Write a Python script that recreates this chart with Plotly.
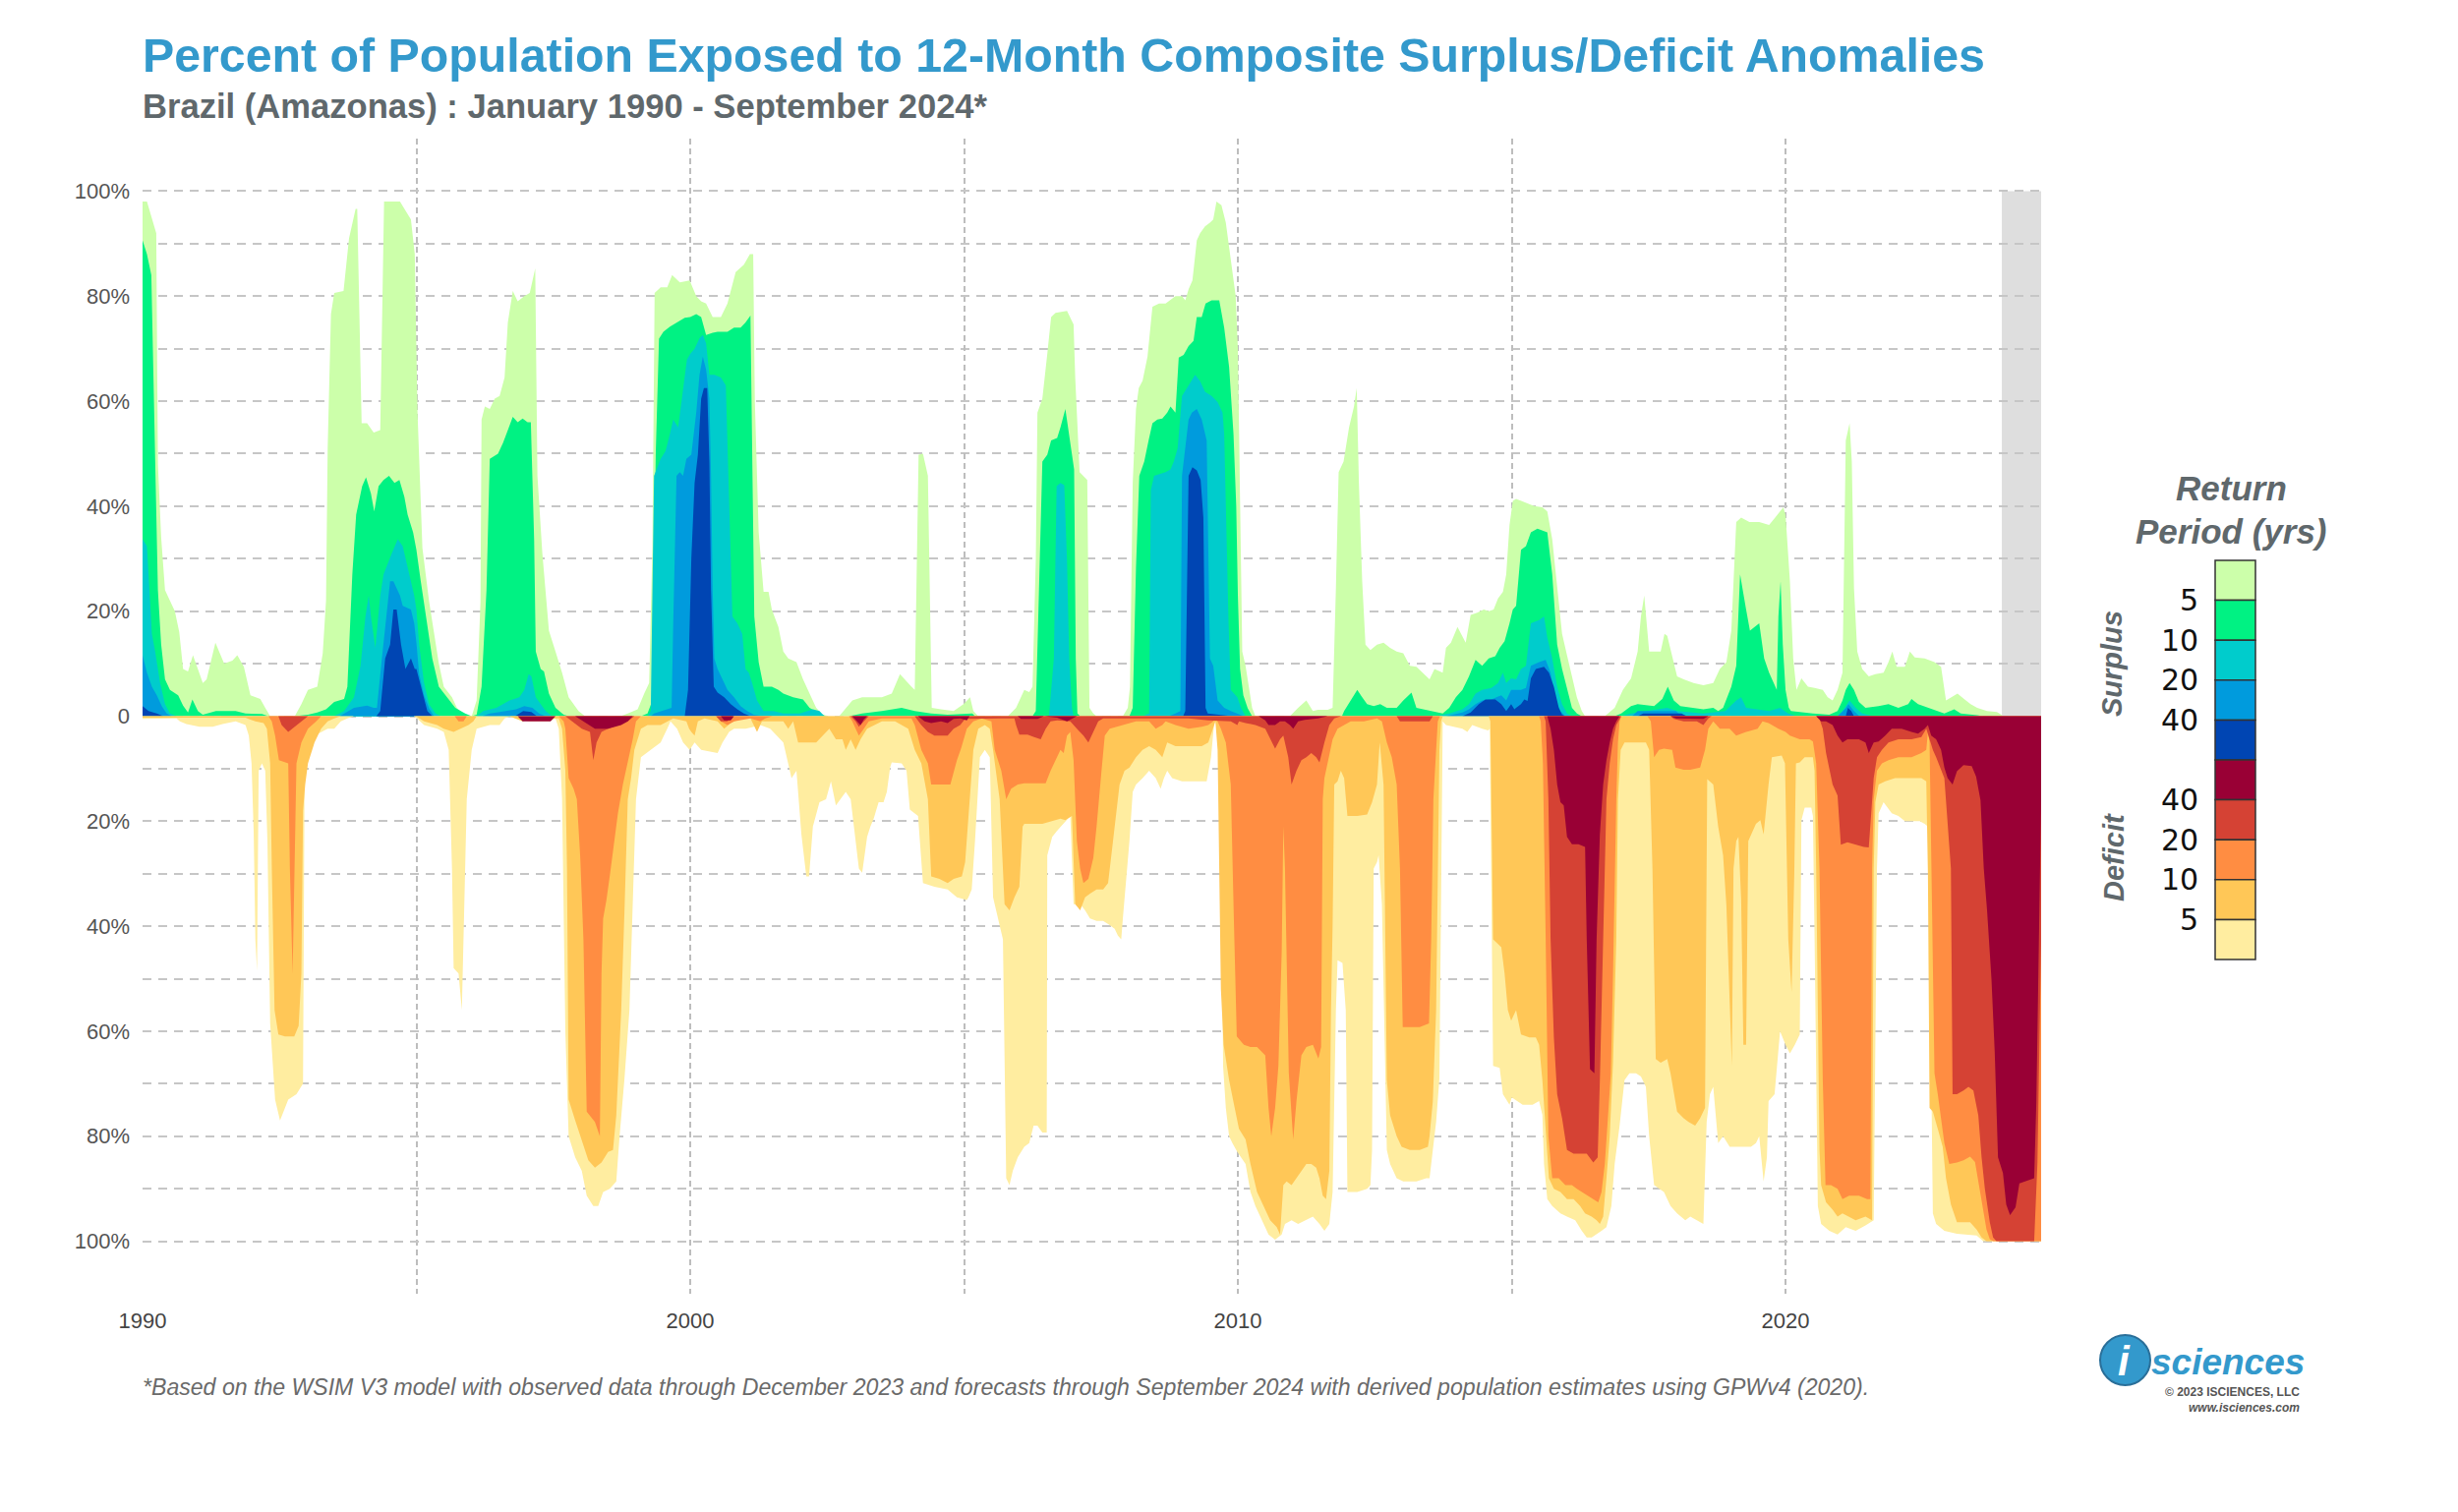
import plotly.graph_objects as go

# ---------------- DATA (decimal year, % of population) ----------------
# Surplus: share of population with return period >= threshold
surplus_3yr = [(1990.00,98),(1990.08,98),(1990.25,92),(1990.28,48),(1990.34,34),(1990.41,24),(1990.50,22),(1990.59,20),(1990.67,16),(1990.74,9),(1990.83,8.5),(1990.92,11.6),(1991.01,9),(1991.10,6.3),(1991.17,7),(1991.33,14),(1991.49,10),(1991.64,10.6),(1991.73,11.6),(1991.85,9.4),(1991.97,4),(1992.15,3.3),(1992.24,1.6),(1992.33,0),(1992.78,0),(1992.90,2.3),(1993.02,5),(1993.19,5.6),(1993.29,12),(1993.35,22),(1993.38,51),(1993.44,76.6),(1993.50,80.6),(1993.67,81),(1993.77,91),(1993.89,96.6),(1993.92,96.6),(1994.00,55.8),(1994.10,55.8),(1994.22,54),(1994.34,54.5),(1994.41,98),(1994.70,98),(1994.90,94.6),(1994.97,88),(1995.02,58),(1995.11,32),(1995.23,22),(1995.32,16),(1995.41,10),(1995.50,5.6),(1995.65,3.6),(1995.74,1.6),(1995.89,0),(1996.01,0),(1996.10,3),(1996.17,21.7),(1996.19,56.5),(1996.25,59),(1996.34,58.5),(1996.43,60.5),(1996.52,61),(1996.61,64.5),(1996.67,75),(1996.76,81),(1996.85,79),(1996.97,80),(1997.07,80.6),(1997.17,85.3),(1997.21,45.8),(1997.30,31),(1997.42,16.3),(1997.54,12.3),(1997.66,8.3),(1997.78,3.6),(1997.96,1),(1998.08,0),(1998.73,0),(1998.86,0.5),(1999.04,1.3),(1999.16,4.3),(1999.25,6.3),(1999.31,32.4),(1999.35,80.6),(1999.46,81.7),(1999.58,81.7),(1999.67,84),(1999.81,82.6),(1999.99,83),(2000.11,80),(2000.20,79),(2000.29,78.6),(2000.41,76),(2000.56,76),(2000.68,78.6),(2000.83,84.6),(2000.98,86),(2001.09,88),(2001.15,88),(2001.18,60),(2001.25,35),(2001.34,23.7),(2001.43,23.7),(2001.49,20.3),(2001.61,17),(2001.70,12.3),(2001.79,11),(2001.94,10.3),(2002.06,7),(2002.18,4.3),(2002.30,1.6),(2002.42,0.3),(2002.54,0),(2002.72,0),(2002.84,1.6),(2002.96,3),(2003.14,3.6),(2003.50,3.6),(2003.68,4.3),(2003.83,8),(2004.04,5.6),(2004.10,5),(2004.17,49.8),(2004.25,50),(2004.34,45.8),(2004.41,1.6),(2004.58,1.3),(2004.81,1),(2004.99,2.3),(2005.11,3.6),(2005.17,1),(2005.26,0),(2005.80,0),(2005.95,1.6),(2006.10,5),(2006.19,4.6),(2006.25,5.6),(2006.31,29.7),(2006.34,57.8),(2006.43,60.5),(2006.52,69),(2006.59,76),(2006.67,76.8),(2006.88,77.2),(2007.00,74.6),(2007.03,64.5),(2007.11,46.5),(2007.18,45.8),(2007.25,45),(2007.29,1.6),(2007.36,0.5),(2007.42,0),(2007.90,0),(2007.99,1.6),(2008.03,5.6),(2008.08,44.4),(2008.14,58.5),(2008.19,62.5),(2008.26,63.9),(2008.35,68.5),(2008.44,78),(2008.56,78.6),(2008.68,78.6),(2008.86,80),(2008.98,80),(2009.04,79.2),(2009.10,81.3),(2009.17,83),(2009.25,90.6),(2009.31,92),(2009.40,93.3),(2009.49,94),(2009.55,94.6),(2009.61,98),(2009.70,97.3),(2009.78,94),(2009.87,87.3),(2009.96,80),(2010.00,70),(2010.03,50),(2010.08,12.3),(2010.14,9.6),(2010.20,5.6),(2010.26,1.6),(2010.32,0),(2010.95,0),(2011.10,1.6),(2011.25,3),(2011.37,1),(2011.46,1.2),(2011.64,1.2),(2011.73,1.6),(2011.79,24.4),(2011.84,46.5),(2011.93,48.5),(2012.03,55),(2012.12,59),(2012.17,62.5),(2012.21,44.4),(2012.27,25.7),(2012.33,13.6),(2012.42,12.6),(2012.54,13.6),(2012.66,14),(2012.78,13),(2012.90,12.3),(2013.02,12),(2013.14,9.6),(2013.26,9.4),(2013.35,8.5),(2013.44,7.6),(2013.50,7),(2013.59,9),(2013.74,8.3),(2013.80,13),(2013.89,14),(2014.01,17),(2014.10,15.3),(2014.16,14),(2014.25,19.3),(2014.37,19.7),(2014.49,20.3),(2014.58,20),(2014.67,20.3),(2014.75,22.4),(2014.84,23.7),(2014.90,27),(2014.96,36.4),(2015.02,41),(2015.08,41.4),(2015.26,40.7),(2015.41,40),(2015.56,39.8),(2015.65,39),(2015.74,33.7),(2015.83,24.4),(2015.92,15.7),(2016.01,11.6),(2016.10,7.6),(2016.19,3.6),(2016.28,1),(2016.34,0),(2016.70,0),(2016.88,1.6),(2017.03,5),(2017.18,7.2),(2017.30,12.3),(2017.36,19),(2017.42,23),(2017.51,12.3),(2017.72,12.3),(2017.79,15.7),(2017.84,15.3),(2017.93,11.6),(2018.02,7.6),(2018.14,7),(2018.32,6.3),(2018.50,5.9),(2018.68,6.3),(2018.80,9),(2018.92,10.3),(2019.01,16.3),(2019.10,37),(2019.19,37.8),(2019.34,37),(2019.52,37),(2019.70,36.4),(2019.81,37.8),(2019.90,39),(2019.96,39.8),(2020.00,38.4),(2020.08,25.7),(2020.14,11),(2020.20,5),(2020.29,7.2),(2020.41,5.6),(2020.53,5.4),(2020.68,5),(2020.77,3.6),(2020.86,3),(2020.95,5),(2021.04,8.3),(2021.10,52.5),(2021.17,55.8),(2021.21,48.5),(2021.25,24.4),(2021.31,12.3),(2021.40,9),(2021.52,7.6),(2021.64,8),(2021.79,8.3),(2021.88,10.3),(2021.95,12.3),(2022.03,9.4),(2022.18,9.4),(2022.27,12.3),(2022.36,11.2),(2022.54,11),(2022.72,10.3),(2022.84,9.4),(2022.93,3),(2023.02,3.6),(2023.14,4.3),(2023.26,3.3),(2023.38,2.3),(2023.50,1.6),(2023.68,1),(2023.86,0.8),(2023.98,0),(2024.67,0)]

surplus_5yr = [(1990.00,90.6),(1990.08,88),(1990.16,84),(1990.23,45.8),(1990.28,24),(1990.34,13.6),(1990.41,7),(1990.50,5),(1990.65,4),(1990.74,2),(1990.83,0.7),(1990.91,3.2),(1991.01,1),(1991.10,0.3),(1991.34,1),(1991.70,1),(1991.88,0.5),(1992.18,0.4),(1992.30,0),(1992.78,0),(1993.02,0.3),(1993.19,0.7),(1993.35,1.3),(1993.50,2.7),(1993.68,3.3),(1993.74,5.6),(1993.83,27),(1993.90,38.4),(1994.01,43.8),(1994.08,45.5),(1994.17,42.4),(1994.23,39),(1994.31,43.8),(1994.40,45),(1994.50,45.8),(1994.60,44.4),(1994.69,45),(1994.78,41.8),(1994.84,38.4),(1994.94,35),(1995.00,31.7),(1995.08,25.7),(1995.17,19),(1995.29,11),(1995.41,5.6),(1995.56,3.6),(1995.71,1.6),(1995.89,0.5),(1996.01,0),(1996.10,0.3),(1996.19,5.6),(1996.28,24),(1996.34,49),(1996.49,50),(1996.58,52),(1996.67,54.5),(1996.76,57),(1996.85,56),(1996.94,56.7),(1997.03,56),(1997.09,56),(1997.15,33.7),(1997.18,12.3),(1997.27,9),(1997.33,8.5),(1997.42,4.3),(1997.54,1.6),(1997.69,0.3),(1997.78,0),(1999.10,0),(1999.22,0.5),(1999.31,3),(1999.37,49.8),(1999.43,71.9),(1999.51,73.2),(1999.63,74.2),(1999.75,75),(1999.90,75.9),(2000.00,76),(2000.11,76.6),(2000.20,76),(2000.29,72.6),(2000.41,73),(2000.50,73.2),(2000.68,73.2),(2000.80,74),(2000.92,74),(2001.01,75),(2001.10,76.3),(2001.13,51),(2001.17,19),(2001.25,10.3),(2001.34,5.6),(2001.49,5.6),(2001.61,5),(2001.70,4.3),(2001.88,3.6),(2002.06,3.2),(2002.18,1.6),(2002.36,0.5),(2002.48,0),(2002.90,0),(2003.14,0.5),(2003.50,1),(2003.86,1.6),(2004.10,1),(2004.40,0.5),(2004.70,0.3),(2005.00,0.5),(2005.15,0.5),(2005.20,0),(2006.25,0),(2006.31,1),(2006.37,24),(2006.43,48.5),(2006.52,49.8),(2006.59,52.5),(2006.70,53),(2006.76,55),(2006.85,58.5),(2006.94,52.5),(2007.01,47),(2007.04,11),(2007.07,0.5),(2007.12,0),(2008.02,0),(2008.08,1.6),(2008.14,28.4),(2008.20,45.8),(2008.29,48.5),(2008.37,52.5),(2008.44,55.8),(2008.53,56.5),(2008.62,56.7),(2008.71,57.8),(2008.77,59),(2008.86,57.8),(2008.92,68.3),(2009.01,68.8),(2009.10,70.5),(2009.19,71.5),(2009.25,76),(2009.34,76),(2009.41,78.6),(2009.52,79.2),(2009.66,79.2),(2009.75,74),(2009.84,66.5),(2009.92,53.8),(2009.97,40),(2010.00,23),(2010.04,9),(2010.10,4),(2010.18,1.5),(2010.26,0),(2011.90,0),(2011.94,1),(2012.06,3),(2012.18,5),(2012.27,3.6),(2012.36,2.3),(2012.48,1.9),(2012.60,2.3),(2012.72,1.6),(2012.90,1.6),(2013.02,3),(2013.17,4.5),(2013.26,1.6),(2013.50,1),(2013.74,0.5),(2013.86,1.6),(2013.98,3.6),(2014.10,5),(2014.22,7.6),(2014.34,10.7),(2014.46,9.6),(2014.58,11),(2014.70,11.4),(2014.78,13),(2014.87,14.3),(2014.96,17.7),(2015.02,20.3),(2015.08,21),(2015.17,31.7),(2015.26,32.4),(2015.35,35),(2015.47,35.7),(2015.56,35.3),(2015.65,35),(2015.74,27),(2015.83,13.6),(2015.92,9),(2016.01,5),(2016.10,1.6),(2016.19,0.5),(2016.28,0),(2016.88,0),(2017.00,0.5),(2017.18,1.9),(2017.30,2.3),(2017.60,1.9),(2017.75,3.3),(2017.85,5.6),(2017.96,3),(2018.08,1.9),(2018.26,1.6),(2018.50,1.3),(2018.68,1.6),(2018.77,1),(2018.86,1.6),(2019.01,5.6),(2019.10,9.6),(2019.17,27),(2019.28,20.3),(2019.35,16.3),(2019.52,17.7),(2019.61,11),(2019.70,8.3),(2019.79,6.3),(2019.84,5),(2019.87,19),(2019.91,25.7),(2019.95,13.6),(2020.00,5),(2020.06,1.6),(2020.10,1),(2020.50,0.5),(2020.80,0.3),(2020.95,1),(2021.04,3),(2021.10,5),(2021.17,6.3),(2021.25,5),(2021.34,2.7),(2021.46,1.6),(2021.70,1.9),(2021.88,2.3),(2022.06,1.6),(2022.24,2.3),(2022.30,3.3),(2022.42,2.3),(2022.60,1.6),(2022.78,1),(2022.90,0.5),(2023.08,1.3),(2023.20,0.5),(2023.50,0.2),(2023.60,0)]

surplus_10yr = [(1990.00,33.7),(1990.08,32.4),(1990.17,15.7),(1990.23,12.3),(1990.32,6.3),(1990.41,2.3),(1990.50,0.5),(1990.62,0),(1993.50,0),(1993.68,1),(1993.86,3.6),(1993.98,9.6),(1994.07,19),(1994.13,23),(1994.17,19),(1994.25,13),(1994.34,23),(1994.40,27),(1994.55,31),(1994.66,33.7),(1994.75,32.4),(1994.84,28.4),(1994.96,23),(1995.00,20.3),(1995.05,13.6),(1995.14,6.3),(1995.23,2.3),(1995.35,0.5),(1995.44,0),(1996.10,0),(1996.22,1),(1996.46,1.6),(1996.70,3),(1996.88,3.6),(1996.97,5),(1997.05,8),(1997.10,7.6),(1997.18,3.6),(1997.27,2.3),(1997.36,1),(1997.48,0),(1999.22,0),(1999.28,1),(1999.34,45.8),(1999.46,49),(1999.55,50.5),(1999.63,53.8),(1999.69,56.5),(1999.78,55),(1999.87,61.8),(1999.94,67.9),(2000.00,69),(2000.08,70),(2000.17,72),(2000.23,72.6),(2000.29,71),(2000.35,65),(2000.44,65),(2000.56,64.5),(2000.65,63),(2000.71,41.8),(2000.77,19),(2000.86,17.7),(2000.95,15.7),(2001.01,9),(2001.07,8.3),(2001.13,6.3),(2001.22,3),(2001.34,1),(2001.52,1),(2001.70,0.5),(2002.00,0.5),(2002.24,1.3),(2002.36,1),(2002.45,0),(2006.55,0),(2006.64,11),(2006.69,43.8),(2006.76,44.4),(2006.83,44),(2006.88,29.7),(2006.92,11),(2006.97,1.6),(2007.00,0),(2008.26,0),(2008.38,0.5),(2008.41,43),(2008.47,45.8),(2008.68,46.5),(2008.77,47),(2008.83,48.5),(2008.90,51),(2008.98,61),(2009.10,63),(2009.22,65),(2009.31,63.8),(2009.40,61.8),(2009.52,61),(2009.63,59.8),(2009.72,57.8),(2009.75,53.8),(2009.83,17.7),(2009.87,5),(2009.99,3.6),(2010.06,1.5),(2010.14,0),(2013.60,0),(2013.86,0.5),(2014.10,1.3),(2014.22,2.3),(2014.34,4.3),(2014.46,5),(2014.63,5.4),(2014.75,6.3),(2014.84,8.3),(2014.90,6.3),(2014.99,7.2),(2015.08,7),(2015.17,9),(2015.26,9.6),(2015.35,17.7),(2015.50,18.3),(2015.59,19),(2015.65,15),(2015.74,11),(2015.83,5.6),(2015.92,2.3),(2016.01,0.5),(2016.10,0),(2017.00,0),(2017.18,0.5),(2017.84,1.6),(2018.02,1),(2018.50,0.5),(2018.90,1),(2019.10,3),(2019.19,3.6),(2019.28,1.6),(2019.70,1),(2019.90,1.6),(2020.05,0.5),(2020.20,0),(2020.95,0),(2021.04,1),(2021.17,3),(2021.28,1.6),(2021.40,0.5),(2021.60,0)]

surplus_20yr = [(1990.00,11.6),(1990.08,8.3),(1990.17,5.6),(1990.26,4),(1990.35,1.9),(1990.44,0.5),(1990.53,0),(1993.60,0),(1993.86,1.6),(1994.10,2),(1994.22,1.6),(1994.28,1.6),(1994.37,11),(1994.52,25.7),(1994.58,25.7),(1994.70,23),(1994.75,21),(1994.90,20.3),(1994.96,17.7),(1995.00,14),(1995.05,8),(1995.14,4),(1995.23,1.5),(1995.32,0),(1996.20,0),(1996.34,0.5),(1996.82,1.3),(1996.97,1.9),(1997.12,1.6),(1997.24,0.5),(1997.36,0),(1999.28,0),(1999.34,0.5),(1999.66,1.6),(1999.69,17.7),(1999.75,45.8),(1999.81,46.5),(1999.87,45.8),(1999.93,49),(2000.02,49.8),(2000.11,57.8),(2000.17,65),(2000.23,68.5),(2000.29,66),(2000.35,60.5),(2000.38,45.8),(2000.41,24),(2000.44,11),(2000.50,9),(2000.59,7),(2000.68,5),(2000.80,3.6),(2000.92,1.9),(2001.04,1),(2001.16,0.3),(2001.34,0),(2008.74,0),(2008.86,0.5),(2008.95,1),(2008.98,45.8),(2009.04,51),(2009.10,56.5),(2009.16,57.8),(2009.25,58.5),(2009.34,56.5),(2009.43,52.5),(2009.49,11),(2009.55,9.6),(2009.63,3),(2009.75,1.6),(2009.87,1),(2009.99,0.5),(2010.11,0),(2013.80,0),(2014.10,0.7),(2014.22,1.3),(2014.34,2.3),(2014.46,3),(2014.63,3.2),(2014.81,4),(2014.90,3),(2014.99,5),(2015.08,5),(2015.17,5),(2015.26,5.4),(2015.35,9.6),(2015.50,10.3),(2015.62,10.7),(2015.71,8.3),(2015.80,3),(2015.89,1),(2015.98,0),(2017.20,0),(2017.30,1),(2018.00,1),(2018.10,0),(2020.95,0),(2021.10,1.5),(2021.15,2.3),(2021.25,1),(2021.35,0)]

surplus_40yr = [(1990.00,1.9),(1990.11,1),(1990.26,0.5),(1990.38,0),(1994.27,0),(1994.34,1),(1994.43,11),(1994.52,13.6),(1994.58,20.3),(1994.64,20.3),(1994.72,13.6),(1994.80,9),(1994.90,11),(1994.97,9),(1995.00,9),(1995.05,7),(1995.14,3),(1995.20,1),(1995.29,0),(1996.80,0),(1996.95,1),(1997.10,0.8),(1997.20,0),(1999.90,0),(1999.96,5),(2000.02,30),(2000.08,44.4),(2000.14,49.8),(2000.20,60.5),(2000.25,62.5),(2000.31,62.5),(2000.35,48.5),(2000.38,24),(2000.43,5.6),(2000.50,4.5),(2000.62,3.6),(2000.74,2.3),(2000.86,1.3),(2000.98,0.5),(2001.10,0),(2009.00,0),(2009.04,1),(2009.10,45.8),(2009.17,47.4),(2009.25,46.8),(2009.32,45),(2009.37,37.8),(2009.41,1.6),(2009.45,0.5),(2009.70,0.3),(2009.90,0),(2014.10,0),(2014.25,0.7),(2014.40,2.3),(2014.52,3.2),(2014.70,3.2),(2014.81,2.3),(2014.90,1),(2014.99,2.3),(2015.05,1.3),(2015.08,1.6),(2015.17,2.3),(2015.23,3.2),(2015.29,2.9),(2015.35,7.2),(2015.44,9),(2015.59,9.4),(2015.68,8.3),(2015.77,5.6),(2015.86,1.6),(2015.92,0.3),(2015.98,0),(2017.30,0),(2017.40,0.5),(2018.10,0.5),(2018.20,0),(2021.10,0),(2021.14,1.6),(2021.20,1),(2021.25,0)]

# Deficit: share of population with return period >= threshold (plotted downward)
deficit_3yr = [(1990.00,0.5),(1990.62,0.4),(1990.68,1),(1990.80,1.5),(1991.04,2),(1991.28,2),(1991.46,1.5),(1991.70,1),(1991.88,1.7),(1991.94,3.7),(1991.99,9),(1992.03,22.4),(1992.06,42.5),(1992.09,48.5),(1992.12,10.4),(1992.18,9),(1992.24,10.4),(1992.28,23.8),(1992.33,58.5),(1992.42,73),(1992.51,77),(1992.66,73),(1992.81,72),(1992.93,70),(1992.96,6.4),(1993.02,5),(1993.14,3.7),(1993.26,3),(1993.38,2.4),(1993.50,2.4),(1993.62,1),(1993.74,0.4),(1993.86,0),(1994.95,0),(1995.02,0.5),(1995.14,1.7),(1995.26,2),(1995.38,2.4),(1995.50,3),(1995.59,6.4),(1995.65,29),(1995.68,48),(1995.77,49),(1995.83,56),(1995.86,42.5),(1995.92,15.8),(1996.01,6.4),(1996.10,2.4),(1996.34,1.7),(1996.52,1.7),(1996.61,0.4),(1996.70,0.1),(1996.82,0.4),(1997.06,1),(1997.42,1),(1997.54,0.4),(1997.60,2.4),(1997.66,15.8),(1997.72,60),(1997.78,80),(1997.90,84),(1998.02,86.6),(1998.11,91.3),(1998.23,93.3),(1998.32,93.3),(1998.41,90.6),(1998.53,90),(1998.65,88.6),(1998.71,80),(1998.80,69),(1998.89,56),(1998.95,36),(1999.01,15.8),(1999.10,7.8),(1999.28,6.4),(1999.46,5),(1999.58,2.4),(1999.64,1),(1999.76,2.4),(1999.87,5),(1999.99,6.4),(2000.08,5),(2000.20,6.4),(2000.50,7),(2000.59,5),(2000.71,3),(2000.80,2.4),(2001.01,2.4),(2001.28,1.7),(2001.46,2.4),(2001.70,5),(2001.85,11.8),(2001.94,10.4),(2002.03,22.5),(2002.12,30.5),(2002.17,30.5),(2002.24,21),(2002.36,16.4),(2002.48,15.8),(2002.57,12.4),(2002.66,17),(2002.75,15.8),(2002.84,14.4),(2002.93,15.8),(2002.99,21),(2003.08,29),(2003.14,29.8),(2003.23,23),(2003.29,21),(2003.35,19.5),(2003.44,16.4),(2003.53,16.4),(2003.59,14.4),(2003.65,9.8),(2003.68,8.8),(2003.86,9),(2003.95,10.4),(2004.01,17.8),(2004.16,19),(2004.25,31.8),(2004.46,32.5),(2004.70,33),(2004.87,34.5),(2005.05,35),(2005.08,34.5),(2005.14,33),(2005.20,23.8),(2005.29,7.8),(2005.38,6.4),(2005.47,7.8),(2005.53,34.5),(2005.65,39.8),(2005.71,42.5),(2005.77,88),(2005.83,89.3),(2005.89,86.6),(2005.98,84),(2006.10,82),(2006.19,81.3),(2006.27,78),(2006.34,78),(2006.43,79.3),(2006.51,79.3),(2006.52,26.5),(2006.61,23),(2006.70,21.8),(2006.82,20.5),(2006.94,19),(2007.00,35.8),(2007.12,35.8),(2007.21,37),(2007.30,38.5),(2007.42,39),(2007.54,39),(2007.66,39.8),(2007.75,40.5),(2007.81,41.8),(2007.87,42.5),(2007.90,38.5),(2007.96,31.8),(2008.02,23.8),(2008.08,14.4),(2008.14,13),(2008.26,11.8),(2008.38,10.4),(2008.50,11.8),(2008.59,13.8),(2008.65,11.8),(2008.71,10.4),(2008.80,11.8),(2008.98,12.4),(2009.22,12.4),(2009.43,12.4),(2009.51,7.8),(2009.57,1),(2009.61,0.3),(2009.64,2.4),(2009.70,29),(2009.73,66.6),(2009.78,74.6),(2009.84,80),(2009.90,81.3),(2009.99,83),(2010.14,85.3),(2010.23,90.6),(2010.32,93.3),(2010.44,96),(2010.56,98.7),(2010.68,99.7),(2010.80,98.7),(2010.86,96.7),(2010.98,96),(2011.10,96.7),(2011.25,96),(2011.37,95.3),(2011.49,96.7),(2011.58,98),(2011.67,96.7),(2011.73,90.6),(2011.79,56),(2011.82,46.5),(2011.91,47),(2011.97,56),(2012.00,90.6),(2012.18,90.6),(2012.36,90),(2012.42,89.3),(2012.45,82.6),(2012.48,29),(2012.54,27.8),(2012.57,26.5),(2012.63,35.8),(2012.72,82.6),(2012.78,85.3),(2012.90,88),(2013.02,88.6),(2013.26,88.6),(2013.44,88),(2013.50,88),(2013.56,82.6),(2013.62,77.3),(2013.68,69),(2013.74,1),(2013.80,1.7),(2014.10,2.4),(2014.19,3),(2014.28,1.7),(2014.46,2.4),(2014.57,2.7),(2014.60,2.4),(2014.66,66.6),(2014.78,67),(2014.84,72),(2014.96,74),(2015.00,72.6),(2015.20,74),(2015.38,74),(2015.50,73.3),(2015.56,75.9),(2015.59,85.3),(2015.65,92),(2015.74,93.3),(2015.89,94.7),(2016.01,95.3),(2016.16,96),(2016.28,98),(2016.37,99.3),(2016.46,99.3),(2016.55,98.7),(2016.64,98),(2016.73,97.3),(2016.82,93.3),(2016.88,85.3),(2016.97,78),(2017.06,69.3),(2017.15,68),(2017.27,68),(2017.36,68.6),(2017.45,70.6),(2017.51,80),(2017.60,89.3),(2017.78,90.6),(2017.90,93.3),(2018.02,94.7),(2018.17,96),(2018.26,95.3),(2018.38,96),(2018.50,96.7),(2018.56,77.3),(2018.62,72),(2018.68,70.6),(2018.77,81.3),(2018.86,80),(2018.98,82),(2019.37,82),(2019.46,81.3),(2019.52,80),(2019.60,88.6),(2019.66,84),(2019.69,73.3),(2019.80,72),(2019.90,60),(2020.00,62.6),(2020.08,64.2),(2020.17,62.6),(2020.26,60.6),(2020.29,19.8),(2020.35,17.4),(2020.47,17.4),(2020.50,19),(2020.53,42),(2020.59,93.3),(2020.65,96.7),(2020.80,98),(2020.95,98.7),(2021.10,97.3),(2021.28,98),(2021.46,97),(2021.61,96),(2021.67,29),(2021.70,18.5),(2021.79,16.4),(2021.94,18.5),(2022.06,19),(2022.18,20),(2022.45,20),(2022.54,20.5),(2022.60,21),(2022.63,40),(2022.66,68),(2022.69,94.7),(2022.75,96.7),(2022.90,98),(2023.13,98.6),(2023.49,98.9),(2023.61,100),(2024.67,100)]

deficit_5yr = [(1990.00,0.3),(1991.88,0.3),(1992.06,1),(1992.21,1.3),(1992.27,2.4),(1992.33,9),(1992.36,29),(1992.41,56),(1992.48,60.6),(1992.60,61),(1992.77,61),(1992.85,59),(1992.90,49),(1992.93,18),(1992.97,13),(1993.02,9),(1993.14,5),(1993.26,2.4),(1993.38,1),(1993.50,0.4),(1993.62,0),(1994.97,0),(1995.02,0.2),(1995.14,1),(1995.38,1.7),(1995.50,2.4),(1995.68,3),(1995.80,2.4),(1995.95,1.7),(1996.04,1),(1996.10,0),(1996.70,0),(1996.82,0.5),(1996.94,1),(1997.06,0.5),(1997.42,0.5),(1997.60,0.4),(1997.66,2.4),(1997.72,10.4),(1997.75,29),(1997.78,73),(1997.90,77),(1998.02,81),(1998.14,84.6),(1998.26,86),(1998.38,85),(1998.50,83),(1998.59,82.6),(1998.65,76),(1998.74,56),(1998.80,37),(1998.86,15.8),(1998.92,11.8),(1998.98,6.4),(1999.10,2.4),(1999.22,1.7),(1999.46,1.7),(1999.58,1),(1999.69,0.4),(1999.93,1),(1999.98,2.4),(2000.02,3),(2000.08,3.7),(2000.14,1),(2000.26,0.4),(2000.50,1),(2000.62,2.4),(2000.74,1.3),(2000.92,0.4),(2001.10,0.4),(2001.22,3),(2001.31,1),(2001.70,1),(2001.79,2.4),(2001.88,1),(2001.97,5),(2002.06,5),(2002.30,5),(2002.42,3.7),(2002.54,2.4),(2002.66,4.4),(2002.78,4.4),(2002.84,6.4),(2002.93,4.4),(2003.02,6.4),(2003.11,4.4),(2003.23,2.4),(2003.38,1.7),(2003.50,1),(2003.74,1),(2003.86,1.7),(2003.98,2.4),(2004.10,6.4),(2004.22,9),(2004.34,15.8),(2004.40,30.5),(2004.55,31),(2004.70,31.8),(2004.81,31),(2004.96,30.5),(2005.02,27.8),(2005.11,15.8),(2005.17,6.4),(2005.26,2.4),(2005.38,1.7),(2005.47,2.4),(2005.53,6.4),(2005.65,15.8),(2005.74,35.8),(2005.83,37),(2005.92,34.5),(2006.01,32.5),(2006.07,21),(2006.10,20.5),(2006.43,20.5),(2006.76,19.5),(2006.85,19.8),(2006.97,19),(2007.03,35.8),(2007.12,37),(2007.21,34.5),(2007.30,33.8),(2007.42,33),(2007.54,33),(2007.63,31.8),(2007.72,23.8),(2007.84,13),(2007.93,10.4),(2008.02,9.8),(2008.14,7.8),(2008.26,6.4),(2008.38,5.7),(2008.50,6.4),(2008.62,7.8),(2008.71,5),(2008.86,5.7),(2009.34,5.7),(2009.46,5),(2009.55,2.4),(2009.59,1),(2009.63,6.4),(2009.66,29),(2009.69,52),(2009.74,62.6),(2009.84,69.3),(2009.93,74),(2010.02,78.6),(2010.14,80.6),(2010.23,85.3),(2010.35,90.6),(2010.47,93.3),(2010.59,96),(2010.71,97.3),(2010.77,98.7),(2010.83,89.3),(2010.89,88.6),(2010.98,89.3),(2011.07,88),(2011.16,86.6),(2011.25,85.3),(2011.34,85.3),(2011.43,86),(2011.49,88),(2011.55,91.3),(2011.61,92),(2011.67,86.6),(2011.70,56),(2011.73,39.8),(2011.76,13),(2011.82,12.4),(2011.88,10.4),(2011.94,11.8),(2012.00,19),(2012.18,19),(2012.36,18.7),(2012.45,16.4),(2012.54,13),(2012.59,5),(2012.66,13),(2012.72,69.3),(2012.78,76),(2012.90,80),(2012.99,82),(2013.14,82.6),(2013.32,82.6),(2013.47,82),(2013.50,80),(2013.56,73.3),(2013.62,56),(2013.68,6.4),(2013.71,1),(2013.74,0),(2014.58,0),(2014.61,1),(2014.66,42.5),(2014.81,44),(2014.87,49),(2014.93,56),(2014.99,58),(2015.08,56),(2015.17,60.6),(2015.32,61.2),(2015.44,61.2),(2015.50,62.6),(2015.56,69.3),(2015.62,78.6),(2015.68,88),(2015.77,90),(2015.89,90.6),(2016.01,92),(2016.13,92),(2016.25,93.3),(2016.34,94.7),(2016.46,95.3),(2016.55,96),(2016.61,96.7),(2016.67,95.3),(2016.73,88),(2016.79,80),(2016.85,66),(2016.91,42.5),(2016.94,15.8),(2016.99,6.4),(2017.06,5),(2017.45,5),(2017.51,6.4),(2017.57,29),(2017.63,65.3),(2017.72,66),(2017.84,65.3),(2017.90,68),(2018.02,75.3),(2018.14,76.6),(2018.23,77.3),(2018.35,78),(2018.44,76.6),(2018.53,74.6),(2018.57,12),(2018.68,13),(2018.77,21),(2018.86,26.5),(2018.92,36),(2018.98,56),(2019.02,66.6),(2019.05,29),(2019.10,23.8),(2019.14,23),(2019.19,35),(2019.23,62.6),(2019.28,62.6),(2019.32,23.8),(2019.46,20.5),(2019.54,19.8),(2019.60,22.5),(2019.69,13),(2019.75,7.8),(2019.93,7.5),(2019.99,9),(2020.05,42.5),(2020.11,52.5),(2020.16,30),(2020.19,9),(2020.26,8.8),(2020.35,7.8),(2020.50,7.8),(2020.53,10.4),(2020.56,29),(2020.62,82.6),(2020.65,89.3),(2020.74,92.6),(2020.86,94),(2020.95,95.3),(2021.04,94.7),(2021.16,95.3),(2021.28,96),(2021.46,95.3),(2021.58,96),(2021.61,29),(2021.64,16.4),(2021.70,13),(2021.82,12.4),(2022.00,11.8),(2022.48,11.8),(2022.57,12.4),(2022.60,30),(2022.63,74.6),(2022.69,75.3),(2022.78,78.6),(2022.87,82),(2022.93,88),(2023.02,93),(2023.13,96.4),(2023.37,96.4),(2023.49,97.8),(2023.58,99.3),(2023.67,100),(2024.67,100)]

deficit_10yr = [(1992.30,0),(1992.36,1),(1992.42,3.7),(1992.49,8.4),(1992.66,9),(1992.69,29),(1992.74,49),(1992.77,29),(1992.81,9),(1992.90,5),(1993.02,2.4),(1993.17,1),(1993.26,0),(1995.70,0),(1995.77,1),(1995.86,1),(1995.92,0),(1997.60,0),(1997.69,1),(1997.72,2.4),(1997.78,11.8),(1997.87,13.8),(1997.93,15.8),(1997.99,26.5),(1998.05,42.5),(1998.11,75.3),(1998.26,77.3),(1998.35,80),(1998.38,49),(1998.41,38.5),(1998.47,35),(1998.53,30.5),(1998.62,23.8),(1998.68,18.5),(1998.77,13),(1998.86,9),(1998.95,4.4),(1999.01,1),(1999.10,0),(2000.50,0),(2000.56,1),(2000.68,1.7),(2000.80,1),(2001.10,0.4),(2001.28,1),(2001.37,0.4),(2001.50,0),(2002.90,0),(2002.96,1),(2003.02,2.4),(2003.08,3.7),(2003.17,2.4),(2003.26,1),(2003.50,0.4),(2004.04,0.4),(2004.10,1.7),(2004.22,6.4),(2004.34,9),(2004.40,13),(2004.75,13),(2004.87,8.4),(2004.95,6),(2005.05,2.4),(2005.17,1),(2005.32,0.4),(2005.50,1),(2005.56,6.4),(2005.68,10.4),(2005.77,15.8),(2005.86,13.8),(2005.98,13),(2006.10,12.8),(2006.49,12.8),(2006.58,10.4),(2006.67,8.4),(2006.76,6.4),(2006.82,7),(2006.88,3.7),(2006.94,3),(2007.00,8.4),(2007.06,23.8),(2007.12,29),(2007.18,31.8),(2007.27,31),(2007.36,27),(2007.42,21),(2007.51,10.4),(2007.57,3.7),(2007.66,2.4),(2007.90,1.7),(2008.14,1),(2008.38,1),(2008.50,2.4),(2008.62,1.7),(2008.68,1),(2008.86,1.7),(2009.10,2.4),(2009.34,2),(2009.46,1.7),(2009.55,1),(2009.59,0.4),(2009.63,1),(2009.69,2.4),(2009.78,5),(2009.87,13),(2009.93,40),(2009.98,61),(2010.11,62.6),(2010.23,63),(2010.35,63),(2010.50,64.6),(2010.56,74.6),(2010.61,80),(2010.68,74.6),(2010.74,66.6),(2010.80,45),(2010.83,21),(2010.86,29),(2010.89,47.9),(2010.93,67.9),(2011.01,80.6),(2011.07,73.3),(2011.16,64.6),(2011.25,63),(2011.37,62.6),(2011.47,65.2),(2011.52,63),(2011.55,15.8),(2011.58,11.8),(2011.64,9),(2011.73,4.4),(2011.82,2.4),(2011.94,1.7),(2012.06,1),(2012.30,1),(2012.54,0.4),(2012.63,1),(2012.72,5),(2012.81,7.8),(2012.90,13),(2012.96,29),(2013.01,59.2),(2013.32,59.2),(2013.49,58.5),(2013.53,42.5),(2013.57,15.8),(2013.62,6.4),(2013.65,1),(2013.69,0),(2015.50,0),(2015.53,1),(2015.57,9),(2015.62,42),(2015.67,80),(2015.74,88),(2015.86,88),(2015.98,89.3),(2016.10,89.3),(2016.19,90),(2016.28,90.6),(2016.40,91.3),(2016.49,92),(2016.58,92.6),(2016.64,90.6),(2016.70,85.3),(2016.76,76),(2016.81,68),(2016.85,49),(2016.88,29),(2016.91,15.8),(2016.94,5),(2016.97,1),(2017.00,0),(2017.48,0),(2017.54,1),(2017.60,7.8),(2017.69,6.4),(2017.78,6.2),(2017.93,6.4),(2017.99,9.8),(2018.14,10.2),(2018.26,10.2),(2018.44,9.8),(2018.53,6.4),(2018.59,2.4),(2018.68,1),(2018.80,2.4),(2018.98,2.4),(2019.10,3.7),(2019.28,3),(2019.49,2.4),(2019.58,1),(2019.69,1.3),(2019.87,2.4),(2020.00,3),(2020.08,3.7),(2020.26,4.4),(2020.44,4.4),(2020.50,4.8),(2020.56,9),(2020.62,29),(2020.68,69.3),(2020.73,89.3),(2020.83,89.3),(2020.95,90),(2021.04,92),(2021.16,91.3),(2021.34,91.3),(2021.49,92),(2021.55,92),(2021.58,29),(2021.61,15.8),(2021.67,10.4),(2021.76,9),(2021.88,8.4),(2022.06,7.8),(2022.30,7.8),(2022.48,7),(2022.57,6.4),(2022.60,3),(2022.63,5),(2022.69,42.5),(2022.72,68),(2022.78,72),(2022.90,81.3),(2022.99,85.3),(2023.13,85),(2023.25,84.6),(2023.37,83.9),(2023.46,84.9),(2023.52,88.5),(2023.58,92.8),(2023.67,97.8),(2023.73,99.6),(2023.79,100),(2024.67,100)]

deficit_20yr = [(1992.48,0),(1992.54,1.7),(1992.66,3),(1992.78,2),(1992.90,1),(1993.02,0),(1997.72,0),(1997.84,1),(1998.02,2.4),(1998.17,3),(1998.23,8.4),(1998.29,5),(1998.38,3),(1998.50,2.4),(1998.68,1.7),(1998.86,1),(1998.98,0),(2000.47,0),(2000.56,1),(2000.68,1),(2000.77,0),(2002.93,0),(2003.02,1),(2003.08,2),(2003.17,1),(2003.26,0),(2004.10,0),(2004.22,1.7),(2004.34,3),(2004.46,3.7),(2004.70,3.7),(2004.81,2.4),(2004.93,1.7),(2005.02,0.5),(2005.92,0.4),(2005.95,1.7),(2006.01,3.5),(2006.16,3.5),(2006.28,4),(2006.40,4.4),(2006.49,2.4),(2006.58,1),(2006.70,0.8),(2006.94,1),(2007.06,2.4),(2007.18,3.7),(2007.27,5),(2007.36,3),(2007.45,1),(2007.54,0.4),(2009.10,0.4),(2009.46,0.8),(2009.87,1),(2009.99,1.7),(2010.02,1),(2010.14,1.3),(2010.32,1.7),(2010.50,2.4),(2010.59,4.4),(2010.68,6.2),(2010.77,4.4),(2010.83,3.7),(2010.92,7.8),(2010.98,13),(2011.07,10.4),(2011.16,8.4),(2011.25,7.8),(2011.34,7),(2011.43,7.8),(2011.49,8.8),(2011.58,5),(2011.67,1.7),(2011.76,0.4),(2011.88,0),(2012.90,0),(2012.96,1),(2013.50,1),(2013.56,0),(2015.59,0),(2015.62,1),(2015.67,15.8),(2015.71,42.5),(2015.77,61.2),(2015.83,72),(2015.92,76.6),(2016.01,82.6),(2016.13,83.3),(2016.37,83.3),(2016.49,85),(2016.57,84),(2016.61,69.3),(2016.64,56),(2016.69,29),(2016.73,15.8),(2016.79,9),(2016.85,4.4),(2016.91,1.7),(2016.97,0.4),(2017.00,0),(2017.90,0),(2017.96,0.5),(2018.14,1),(2018.38,1),(2018.50,1.7),(2018.59,0.4),(2018.65,0),(2020.56,0),(2020.62,0.5),(2020.68,2.4),(2020.74,7),(2020.86,13),(2020.95,15.1),(2021.01,24.5),(2021.13,24),(2021.28,24.5),(2021.43,24.9),(2021.52,25),(2021.58,15.8),(2021.61,11.8),(2021.67,7.8),(2021.76,6.4),(2021.88,5),(2022.06,4.4),(2022.30,4.4),(2022.48,4),(2022.57,2.4),(2022.63,4.4),(2022.69,6.4),(2022.75,7.8),(2022.84,10.4),(2022.90,11.8),(2023.02,29),(2023.05,72),(2023.13,72),(2023.25,71.3),(2023.34,70.6),(2023.43,71.3),(2023.52,76),(2023.58,84),(2023.64,90),(2023.73,96.4),(2023.79,99.3),(2023.85,100),(2024.54,100),(2024.60,85),(2024.67,41)]

deficit_40yr = [(1996.85,0),(1996.94,1),(1997.45,1),(1997.54,0),(1997.90,0),(1998.02,0.8),(1998.14,1.7),(1998.26,2.4),(1998.50,2.4),(1998.74,1.7),(1998.86,1),(1998.95,0),(2000.56,0),(2000.62,0.8),(2000.74,0.8),(2000.80,0),(2002.96,0),(2003.05,1),(2003.11,1.7),(2003.17,0.6),(2003.23,0),(2004.16,0),(2004.28,1),(2004.40,1.3),(2004.58,1),(2004.70,1.3),(2004.81,0.5),(2004.93,0.4),(2005.05,0.8),(2005.10,0),(2005.98,0),(2006.04,0.5),(2006.34,0.5),(2006.46,0),(2006.70,0.3),(2006.88,1),(2006.97,0.5),(2007.06,0),(2010.38,0),(2010.50,0.8),(2010.56,1.7),(2010.68,1.7),(2010.77,1),(2010.86,1),(2010.95,1.7),(2011.01,2.4),(2011.10,1),(2011.22,0.7),(2011.46,0.4),(2011.64,0),(2015.65,0),(2015.71,2.4),(2015.77,6.4),(2015.83,13),(2015.89,16.4),(2015.95,17),(2016.01,23),(2016.10,24.4),(2016.22,24.4),(2016.34,24.9),(2016.37,42.5),(2016.43,67.2),(2016.51,68),(2016.55,42.5),(2016.61,22.5),(2016.67,13),(2016.73,8.4),(2016.79,5),(2016.85,2.4),(2016.91,1),(2016.97,0),(2017.90,0),(2018.00,0.4),(2018.50,0.5),(2018.59,0),(2020.56,0),(2020.65,1),(2020.74,1),(2020.86,1.7),(2020.95,3.7),(2021.04,5),(2021.13,4.4),(2021.34,4.4),(2021.46,5),(2021.52,7),(2021.61,5),(2021.70,4.8),(2021.82,3.7),(2021.94,2.4),(2022.12,2.4),(2022.30,3),(2022.42,3.3),(2022.54,2.4),(2022.60,1.7),(2022.66,3.7),(2022.75,4.4),(2022.84,6.4),(2022.90,9.8),(2022.96,11.8),(2023.05,13),(2023.13,10.5),(2023.25,9.3),(2023.40,9.5),(2023.48,11.5),(2023.56,16),(2023.62,29),(2023.68,37),(2023.76,50),(2023.82,64),(2023.88,84),(2023.97,87),(2024.03,93),(2024.10,95),(2024.20,93.5),(2024.27,89),(2024.39,88.5),(2024.54,88),(2024.58,73.5),(2024.625,45),(2024.667,16)]

forecast_start = 2023.95
data_end = 2024.667

x_tick_vals = [1990, 1995, 2000, 2005, 2010, 2015, 2020]
x_tick_text = ["1990", "", "2000", "", "2010", "", "2020"]
y_tick_vals = [-100, -80, -60, -40, -20, 0, 20, 40, 60, 80, 100]
y_tick_text = ["100%", "80%", "60%", "40%", "20%", "0", "20%", "40%", "60%", "80%", "100%"]

legend_labels_surplus = ["5", "10", "20", "40"]
legend_labels_deficit = ["40", "20", "10", "5"]

# ---------------- STYLE ----------------
C_S3, C_S5, C_S10, C_S20, C_S40 = "#CCFFAA", "#00F283", "#00CCCC", "#009BDD", "#0045B3"
C_D3, C_D5, C_D10, C_D20, C_D40 = "#FFEDA0", "#FFC757", "#FF8D42", "#D54234", "#990035"
legend_colors = [C_S3, C_S5, C_S10, C_S20, C_S40, C_D40, C_D20, C_D10, C_D5, C_D3]

W, H = 2500, 1538
PL, PR, PT, PB = 145, 2076, 141, 1316
def xp(px): return (px - PL) / (PR - PL)
def yp(py): return (PB - py) / (PB - PT)

SANS = "Liberation Sans, Arial, sans-serif"
GREY_TXT = "#5f686c"

fig = go.Figure()

def add_area(pairs, color, sign):
    xs = [p[0] for p in pairs]
    ys = [sign * p[1] for p in pairs]
    fig.add_trace(go.Scatter(x=xs, y=ys, mode="lines", line=dict(width=0, color=color),
                             fill="tozeroy", fillcolor=color, hoverinfo="skip", showlegend=False))

for pairs, col in [(surplus_3yr, C_S3), (surplus_5yr, C_S5), (surplus_10yr, C_S10),
                   (surplus_20yr, C_S20), (surplus_40yr, C_S40)]:
    add_area(pairs, col, 1)
for pairs, col in [(deficit_3yr, C_D3), (deficit_5yr, C_D5), (deficit_10yr, C_D10),
                   (deficit_20yr, C_D20), (deficit_40yr, C_D40)]:
    add_area(pairs, col, -1)

shapes = [dict(type="rect", xref="x", yref="y", x0=forecast_start, x1=data_end, y0=0, y1=100,
               fillcolor="#DEDEDE", line=dict(width=0), layer="below")]

# legend colour bar
cell_h = 40.6
for k, col in enumerate(legend_colors):
    top = 570 + k * cell_h
    shapes.append(dict(type="rect", xref="paper", yref="paper", x0=xp(2253), x1=xp(2294),
                       y0=yp(top + cell_h), y1=yp(top), fillcolor=col,
                       line=dict(color="#333333", width=1.5)))

# logo circle
shapes.append(dict(type="circle", xref="paper", yref="paper", x0=xp(2136), x1=xp(2187),
                   y0=yp(1409), y1=yp(1358), fillcolor="#3399CC", line=dict(color="#2a6f99", width=2)))

annotations = []
def txt(text, x, y, size, color, xanchor="left", yanchor="middle", weight="normal", style="normal",
        family=SANS, angle=0):
    annotations.append(dict(text=text, x=xp(x), y=yp(y), xref="paper", yref="paper", showarrow=False,
                            xanchor=xanchor, yanchor=yanchor, textangle=angle,
                            font=dict(size=size, color=color, family=family, weight=weight, style=style)))

txt("Percent of Population Exposed to 12-Month Composite Surplus/Deficit Anomalies", 143, 56, 48.3,
    "#3399CC", weight="bold")
txt("Brazil (Amazonas) : January 1990 - September 2024*", 143, 108, 34.6, GREY_TXT, weight="bold")
txt("*Based on the WSIM V3 model with observed data through December 2023 and forecasts through "
    "September 2024 with derived population estimates using GPWv4 (2020).", 143, 1411, 23.1, "#6a6a6a",
    style="italic")

txt("Return", 2269, 496, 35, GREY_TXT, xanchor="center", weight="bold", style="italic")
txt("Period (yrs)", 2269, 540, 35, GREY_TXT, xanchor="center", weight="bold", style="italic")
txt("Surplus", 2148, 675, 29, GREY_TXT, xanchor="center", weight="bold", style="italic", angle=-90)
txt("Deficit", 2150, 872, 29, GREY_TXT, xanchor="center", weight="bold", style="italic", angle=-90)
for i, lab in enumerate(legend_labels_surplus):
    txt(lab, 2238, 570 + (i + 1) * cell_h, 30, "#111111", xanchor="right", family="DejaVu Sans")
for i, lab in enumerate(legend_labels_deficit):
    txt(lab, 2238, 570 + (i + 6) * cell_h, 30, "#111111", xanchor="right", family="DejaVu Sans")

# logo text
txt("i", 2160, 1384, 42, "white", xanchor="center", weight="bold", style="italic")
txt("sciences", 2186, 1385, 37, "#3399CC", weight="bold", style="italic")
txt("© 2023 ISCIENCES, LLC", 2341, 1416, 12, "#555555", xanchor="right", weight="bold")
txt("www.isciences.com", 2341, 1432, 12, "#555555", xanchor="right", weight="bold", style="italic")

fig.update_layout(
    width=W, height=H,
    margin=dict(l=PL, r=W - PR, t=PT, b=H - PB, pad=0),
    paper_bgcolor="white", plot_bgcolor="white",
    showlegend=False,
    shapes=shapes, annotations=annotations,
    font=dict(family=SANS),
)
fig.update_xaxes(
    range=[1990, data_end], tickmode="array", tickvals=x_tick_vals, ticktext=x_tick_text,
    showgrid=True, gridcolor="#BDBDBD", griddash="6px,4px", gridwidth=2,
    zeroline=False, showline=False, ticks="", ticklabelstandoff=12,
    tickfont=dict(size=22, color="#444444", family=SANS),
)
fig.update_yaxes(
    range=[-110, 110], tickmode="array", tickvals=y_tick_vals, ticktext=y_tick_text,
    showgrid=True, gridcolor="#C6C6C6", griddash="9px,7px", gridwidth=1.5,
    minor=dict(tickmode="array", tickvals=[-110, -90, -70, -50, -30, -10, 10, 30, 50, 70, 90, 110],
               showgrid=True, gridcolor="#C6C6C6", griddash="9px,7px", gridwidth=1.5),
    zeroline=False, showline=False, ticks="", ticklabelstandoff=12,
    tickfont=dict(size=22, color="#555555", family=SANS),
)

fig.write_html("out.html")
